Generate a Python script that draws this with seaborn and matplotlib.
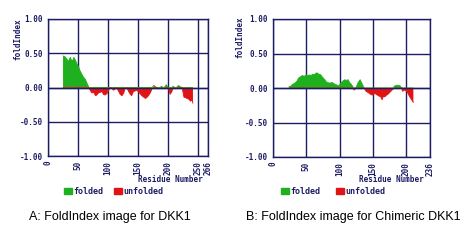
import numpy as np
import matplotlib
matplotlib.use("Agg")
import matplotlib.pyplot as plt
import seaborn as sns
import pandas as pd

# ---- data ----
res_a = [25, 28, 31, 34, 37, 39, 41, 43, 45, 47, 49, 51, 53, 56, 59, 62, 64, 66, 68, 70, 73, 76, 79, 81, 84, 87,
         90, 92, 95, 98, 101, 103, 106, 109, 112, 114, 117, 120, 123, 126, 128, 131, 134, 137, 139, 142, 145, 148,
         151, 154, 156, 159, 162, 165, 167, 170, 173, 176, 179, 181, 184, 186, 189, 191, 193, 195, 197, 199, 201,
         203, 206, 208, 210, 212, 215, 217, 220, 223, 226, 229, 231, 234, 237, 239, 241]
val_a = [0.46, 0.45, 0.42, 0.38, 0.44, 0.40, 0.39, 0.44, 0.41, 0.37, 0.33, 0.30, 0.25, 0.20, 0.15, 0.12, 0.08,
         0.04, 0.00, -0.04, -0.08, -0.07, -0.12, -0.11, -0.08, -0.07, -0.06, -0.10, -0.11, -0.09, -0.04, 0.00,
         -0.01, -0.04, -0.02, 0.00, -0.05, -0.10, -0.12, -0.08, -0.02, 0.00, -0.06, -0.10, -0.12, -0.06, -0.05,
         -0.04, -0.07, -0.10, -0.12, -0.14, -0.16, -0.14, -0.12, -0.08, -0.02, 0.03, 0.01, 0.00, -0.02, -0.01,
         0.02, -0.01, -0.02, 0.02, 0.04, 0.01, -0.03, -0.10, -0.06, 0.02, 0.00, -0.02, 0.01, 0.03, 0.01, 0.00,
         -0.14, -0.15, -0.16, -0.17, -0.20, -0.18, -0.23]

res_b = [24, 26, 29, 31, 34, 36, 39, 41, 44, 47, 50, 52, 55, 57, 60, 62, 64, 66, 69, 72, 74, 76, 78, 80, 82, 85,
         89, 92, 94, 97, 99, 102, 105, 108, 110, 113, 115, 118, 120, 122, 125, 128, 131, 133, 135, 137, 140, 142,
         145, 148, 150, 153, 155, 158, 160, 162, 164, 166, 168, 171, 173, 175, 178, 180, 183, 186, 188, 191, 193,
         195, 197, 200, 203, 205, 207, 209, 211]
val_b = [0.02, 0.02, 0.05, 0.06, 0.08, 0.10, 0.15, 0.16, 0.18, 0.17, 0.19, 0.18, 0.19, 0.18, 0.20, 0.19, 0.21,
         0.22, 0.20, 0.19, 0.16, 0.14, 0.12, 0.09, 0.08, 0.07, 0.08, 0.06, 0.05, 0.04, 0.03, 0.07, 0.10, 0.12,
         0.11, 0.12, 0.08, 0.05, 0.02, -0.03, 0.01, 0.08, 0.12, 0.08, 0.04, 0.00, -0.05, -0.06, -0.08, -0.10,
         -0.10, -0.08, -0.09, -0.11, -0.12, -0.13, -0.17, -0.12, -0.13, -0.10, -0.09, -0.07, -0.04, -0.02, 0.03,
         0.04, 0.04, 0.03, 0.01, -0.05, -0.03, -0.04, -0.08, -0.12, -0.15, -0.18, -0.21]

xticks_a = [0, 50, 100, 150, 200, 250, 266]
xticks_b = [0, 50, 100, 150, 200, 236]
yticks = [-1.0, -0.5, 0.0, 0.5, 1.0]
captions = ["A: FoldIndex image for DKK1", "B: FoldIndex image for Chimeric DKK1"]
legend_labels = ["folded", "unfolded"]

# ---- style ----
sns.set_style("white")
NAVY = "#1c1c64"
GREEN = "#1fb01f"
RED = "#e01414"
MONO = "DejaVu Sans Mono"

W, H = 474, 241
fig = plt.figure(figsize=(W / 100, H / 100), dpi=100)


def px_axes(l, t, r, b):
    return fig.add_axes([l / W, 1 - b / H, (r - l) / W, (b - t) / H])


def panel(ax, res, val, xticks, xmax):
    x = np.array(res, dtype=float)
    y = np.array(val, dtype=float)
    ax.fill_between(x, y, 0, where=y >= 0, interpolate=True, color=GREEN, lw=0, zorder=2)
    ax.fill_between(x, y, 0, where=y <= 0, interpolate=True, color=RED, lw=0, zorder=2)
    df = pd.DataFrame({"r": x, "pos": np.clip(y, 0, None), "neg": np.clip(y, None, 0)})
    sns.lineplot(data=df, x="r", y="pos", ax=ax, color=GREEN, lw=0.6, zorder=3)
    sns.lineplot(data=df, x="r", y="neg", ax=ax, color=RED, lw=0.6, zorder=3)
    ax.axhline(0, color=NAVY, lw=1.0, zorder=4)
    ax.set_xlim(0, xmax)
    ax.set_ylim(-1, 1)
    ax.set_xticks(xticks)
    ax.set_yticks(yticks)
    ax.set_xticklabels([str(t) for t in xticks], rotation=90, fontsize=5.5,
                       fontfamily=MONO, fontweight="bold", color=NAVY)
    ax.set_yticklabels([f"{t:.2f}" for t in yticks], fontsize=5.5,
                       fontfamily=MONO, fontweight="bold", color=NAVY)
    ax.grid(True, color=NAVY, lw=1.0, zorder=1)
    ax.set_axisbelow(True)
    for s in ax.spines.values():
        s.set_color(NAVY)
        s.set_linewidth(1.0)
    ax.tick_params(axis="both", length=2, width=0.8, color=NAVY, pad=1.5, direction="out")
    ax.set_xlabel("")
    ax.set_ylabel("")


axA = px_axes(48, 19, 208, 156)
panel(axA, res_a, val_a, xticks_a, 266)
axB = px_axes(273, 19, 430, 157)
panel(axB, res_b, val_b, xticks_b, 236)

txt = dict(fontsize=5.5, fontfamily=MONO, fontweight="bold", color=NAVY)
# axis labels
fig.text(203 / W, 1 - 179 / H, "Residue Number", ha="right", va="center", **txt)
fig.text(424 / W, 1 - 179 / H, "Residue Number", ha="right", va="center", **txt)
fig.text(18 / W, 1 - 39 / H, "foldIndex", ha="center", va="center", rotation=90, **txt)
fig.text(240 / W, 1 - 37 / H, "foldIndex", ha="center", va="center", rotation=90, **txt)

# legends
def legend(xg, xr, y):
    for xs, col, lab in ((xg, GREEN, legend_labels[0]), (xr, RED, legend_labels[1])):
        fig.patches.append(plt.Rectangle((xs / W, 1 - (y + 3) / H), 8 / W, 6 / H,
                                         transform=fig.transFigure, color=col, figure=fig))
        fig.text((xs + 9) / W, 1 - y / H, lab, ha="left", va="center", **dict(txt, fontsize=6))

legend(64, 114, 191)
legend(281, 336, 191)

# captions
fig.text(110 / W, 1 - 217 / H, captions[0], ha="center", va="center", fontsize=9,
         fontfamily="Liberation Sans", color="black")
fig.text(353 / W, 1 - 217 / H, captions[1], ha="center", va="center", fontsize=9,
         fontfamily="Liberation Sans", color="black")

fig.savefig("out.png", dpi=100)
